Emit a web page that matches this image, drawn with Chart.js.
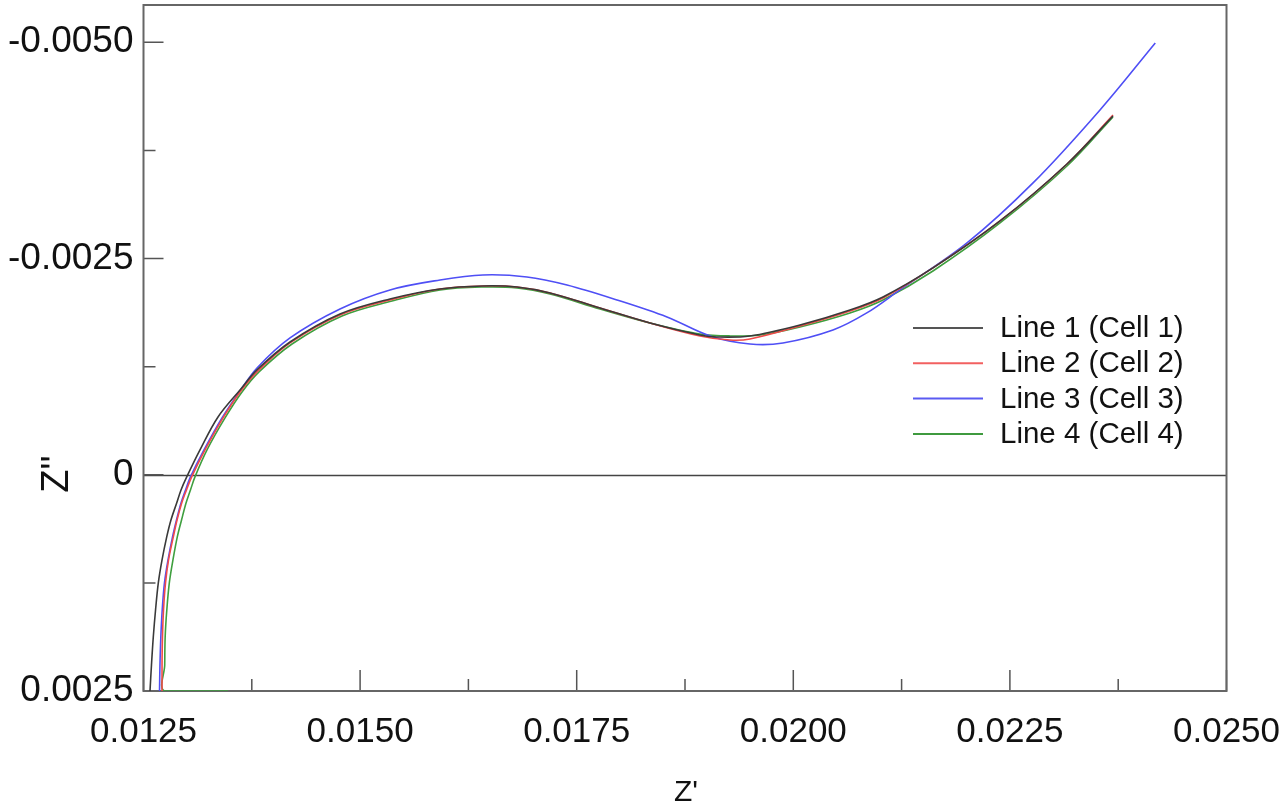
<!DOCTYPE html>
<html><head><meta charset="utf-8">
<script src="https://cdn.jsdelivr.net/npm/chart.js@4.4.1/dist/chart.umd.min.js"></script>
<style>html,body{margin:0;padding:0;background:#fff;overflow:hidden}#wrap{width:1280px;height:810px;position:relative}</style>
</head><body><div id="wrap"><canvas id="c" width="1280" height="810"></canvas></div>
<script>
const seriesNames = ['Line 1 (Cell 1)', 'Line 2 (Cell 2)', 'Line 3 (Cell 3)', 'Line 4 (Cell 4)'];
const seriesColors = ['#3a3a3a', '#f04a4a', '#4f4ff5', '#3f9f3f'];
const legendColors = ['#555555', '#f26060', '#5a5af2', '#3f9a3f'];

const line1X = [0.012575,0.012592,0.012613,0.012639,0.012671,0.012714,0.012768,0.012817,0.012883,0.012933,0.012999,0.013152,0.013360,0.013614,0.013810,0.014191,0.014768,0.015345,0.015922,0.016418,0.016811,0.017192,0.017769,0.018346,0.018923,0.019119,0.019500,0.020077,0.020654,0.021035,0.021612,0.022386,0.023159,0.023690];
const line1Y = [0.002500,0.002199,0.001875,0.001563,0.001251,0.000985,0.000719,0.000523,0.000326,0.000176,0.000025,-0.000287,-0.000668,-0.000980,-0.001212,-0.001535,-0.001859,-0.002033,-0.002148,-0.002183,-0.002171,-0.002102,-0.001928,-0.001755,-0.001616,-0.001593,-0.001605,-0.001732,-0.001905,-0.002056,-0.002391,-0.002934,-0.003593,-0.004148];

const line2X = [0.012714,0.012714,0.012719,0.012731,0.012754,0.012789,0.012844,0.012887,0.012941,0.012996,0.013056,0.013210,0.013418,0.013614,0.013810,0.014191,0.014768,0.015345,0.015922,0.016418,0.016811,0.017192,0.017769,0.018346,0.018923,0.019269,0.019500,0.020077,0.020654,0.021035,0.021612,0.022386,0.023159,0.023690];
const line2Y = [0.002500,0.002199,0.001875,0.001563,0.001251,0.000985,0.000719,0.000523,0.000326,0.000176,0.000025,-0.000287,-0.000657,-0.000957,-0.001189,-0.001524,-0.001848,-0.002021,-0.002148,-0.002183,-0.002171,-0.002102,-0.001928,-0.001755,-0.001605,-0.001558,-0.001570,-0.001720,-0.001894,-0.002044,-0.002391,-0.002934,-0.003593,-0.004160];

const line3X = [0.012685,0.012690,0.012700,0.012716,0.012742,0.012783,0.012835,0.012881,0.012933,0.012985,0.013042,0.013198,0.013406,0.013614,0.013810,0.014191,0.014768,0.015345,0.015922,0.016418,0.016926,0.017388,0.017965,0.018542,0.019039,0.019500,0.019881,0.020458,0.020848,0.021230,0.022005,0.022767,0.023540,0.024178];
const line3Y = [0.002500,0.002199,0.001875,0.001563,0.001251,0.000985,0.000719,0.000523,0.000326,0.000176,0.000025,-0.000287,-0.000657,-0.000969,-0.001235,-0.001582,-0.001917,-0.002137,-0.002252,-0.002310,-0.002287,-0.002194,-0.002021,-0.001824,-0.001605,-0.001512,-0.001524,-0.001674,-0.001871,-0.002137,-0.002680,-0.003374,-0.004218,-0.004992];

const line4X = [0.013475,0.012742,0.012745,0.012750,0.012769,0.012798,0.012840,0.012890,0.012939,0.012991,0.013042,0.013094,0.013233,0.013441,0.013637,0.013833,0.014214,0.014791,0.015368,0.015922,0.016418,0.016811,0.017192,0.017769,0.018346,0.018923,0.019269,0.019617,0.020077,0.020654,0.021035,0.021612,0.022386,0.023159,0.023690];
const line4Y = [0.002500,0.002500,0.002199,0.001875,0.001563,0.001251,0.000985,0.000719,0.000523,0.000326,0.000176,0.000025,-0.000287,-0.000657,-0.000957,-0.001189,-0.001512,-0.001836,-0.002009,-0.002137,-0.002171,-0.002160,-0.002090,-0.001917,-0.001755,-0.001628,-0.001605,-0.001616,-0.001709,-0.001871,-0.002021,-0.002356,-0.002911,-0.003570,-0.004137];

const xTickValues = [0.0125, 0.0150, 0.0175, 0.0200, 0.0225, 0.0250];
const xTickLabels = ['0.0125', '0.0150', '0.0175', '0.0200', '0.0225', '0.0250'];
const xMinorValues = [0.01375, 0.01625, 0.01875, 0.02125, 0.02375];
const yTickValues = [-0.0050, -0.0025, 0, 0.0025];
const yTickLabels = ['-0.0050', '-0.0025', '0', '0.0025'];
const yMinorValues = [-0.00375, -0.00125, 0.00125];

const xTitle = "Z'";
const yTitle = "Z''";

const allX = [line1X, line2X, line3X, line4X];
const allY = [line1Y, line2Y, line3Y, line4Y];

function pts(xs, ys) { return xs.map((x, i) => ({x: x, y: ys[i]})); }

const datasets = seriesNames.map((name, i) => ({
  label: name,
  data: pts(allX[i], allY[i]),
  showLine: true,
  borderColor: seriesColors[i],
  backgroundColor: seriesColors[i],
  borderWidth: 1.6,
  pointRadius: 0,
  tension: 0.35,
  fill: false
}));

const FONT = '"Liberation Sans", Arial, sans-serif';

const framePlugin = {
  id: 'frame',
  beforeDatasetsDraw(chart) {
    const {ctx, chartArea: a, scales: {x, y}} = chart;
    ctx.save();
    ctx.strokeStyle = '#444';
    ctx.lineWidth = 1.3;
    const y0 = Math.round(y.getPixelForValue(0)) + 0.5;
    ctx.beginPath(); ctx.moveTo(a.left, y0); ctx.lineTo(a.right, y0); ctx.stroke();
    ctx.strokeStyle = '#555';
    ctx.lineWidth = 1.5;
    ctx.beginPath();
    xTickValues.forEach(v => { const px = x.getPixelForValue(v); ctx.moveTo(px, a.bottom); ctx.lineTo(px, a.bottom - 21); });
    xMinorValues.forEach(v => { const px = x.getPixelForValue(v); ctx.moveTo(px, a.bottom); ctx.lineTo(px, a.bottom - 12); });
    yTickValues.forEach(v => { const py = y.getPixelForValue(v); ctx.moveTo(a.left, py); ctx.lineTo(a.left + 20, py); });
    yMinorValues.forEach(v => { const py = y.getPixelForValue(v); ctx.moveTo(a.left, py); ctx.lineTo(a.left + 12, py); });
    ctx.stroke();
    ctx.strokeStyle = '#666';
    ctx.lineWidth = 2;
    ctx.strokeRect(a.left, a.top, a.right - a.left, a.bottom - a.top);
    ctx.restore();
  },
  afterDraw(chart) {
    const {ctx} = chart;
    ctx.save();
    ctx.font = '29.5px ' + FONT;
    ctx.textBaseline = 'middle';
    ctx.textAlign = 'left';
    seriesNames.forEach((name, i) => {
      const ly = 328 + i * 35.3;
      ctx.strokeStyle = legendColors[i];
      ctx.lineWidth = 2;
      ctx.beginPath(); ctx.moveTo(913, ly); ctx.lineTo(983, ly); ctx.stroke();
      ctx.fillStyle = '#111';
      ctx.fillText(name, 1000, ly + 1);
    });
    ctx.fillStyle = '#111';
    ctx.font = '30px ' + FONT;
    ctx.textAlign = 'center';
    ctx.textBaseline = 'alphabetic';
    ctx.fillText(xTitle, 686, 801);
    ctx.translate(68, 474);
    ctx.rotate(-Math.PI / 2);
    ctx.font = '38px ' + FONT;
    ctx.fillText(yTitle, 0, 0);
    ctx.restore();
  }
};

new Chart(document.getElementById('c'), {
  type: 'scatter',
  data: {datasets},
  options: {
    responsive: false,
    animation: false,
    devicePixelRatio: 1,
    layout: {padding: {left: 0, right: 53.5, top: 5, bottom: 0}},
    plugins: {legend: {display: false}, tooltip: {enabled: false}},
    scales: {
      x: {
        type: 'linear',
        min: 0.0125,
        max: 0.0250,
        grid: {display: false, drawTicks: false},
        border: {display: false},
        afterBuildTicks: s => { s.ticks = xTickValues.map(v => ({value: v})); },
        afterFit: s => { s.height = 119; s.paddingLeft = 0; s.paddingRight = 0; },
        ticks: {
          autoSkip: false, maxRotation: 0, minRotation: 0, padding: 20,
          color: '#111', font: {size: 35, family: FONT},
          callback: v => { const i = xTickValues.findIndex(t => Math.abs(t - v) < 1e-9); return i >= 0 ? xTickLabels[i] : ''; }
        }
      },
      y: {
        type: 'linear',
        reverse: true,
        min: -0.005431,
        max: 0.0025,
        grid: {display: false, drawTicks: false},
        border: {display: false},
        afterBuildTicks: s => { s.ticks = yTickValues.map(v => ({value: v})); },
        afterFit: s => { s.width = 143.5; s.paddingTop = 0; s.paddingBottom = 0; },
        ticks: {
          autoSkip: false, padding: 10,
          color: '#111', font: {size: 37, family: FONT},
          callback: v => { const i = yTickValues.findIndex(t => Math.abs(t - v) < 1e-9); return i >= 0 ? yTickLabels[i] : ''; }
        }
      }
    }
  },
  plugins: [framePlugin]
});
</script>
</body></html>
